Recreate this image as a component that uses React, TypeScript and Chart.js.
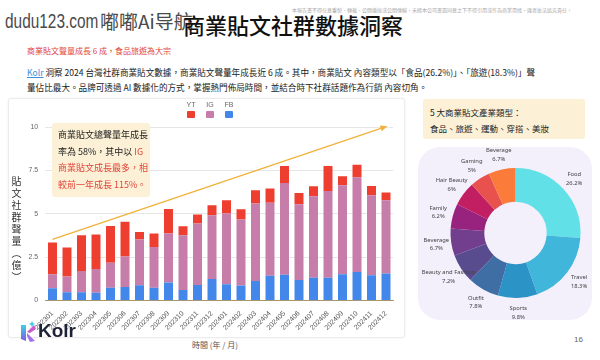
import React, { useEffect, useRef } from "react";
import { Chart, registerables } from "chart.js";

Chart.register(...registerables);

// ---------- data ----------
const months = [
  "202301", "202302", "202303", "202304", "202305", "202306",
  "202307", "202308", "202309", "202310", "202311", "202312",
  "202401", "202402", "202403", "202404", "202405", "202406",
  "202407", "202408", "202409", "202410", "202411", "202412",
];
const fbValues = [0.70, 0.47, 0.47, 0.45, 0.74, 0.78, 0.88, 0.74, 1.04, 0.60, 0.89, 1.24, 0.93, 0.87, 1.12, 1.43, 1.48, 1.18, 1.31, 1.31, 1.52, 1.64, 1.45, 1.56];
const igValues = [0.82, 0.92, 1.23, 1.36, 1.43, 1.76, 2.64, 2.35, 2.82, 3.16, 3.55, 3.67, 4.08, 3.80, 4.47, 4.21, 5.29, 4.37, 4.70, 5.00, 5.12, 5.47, 4.61, 4.22];
const ytValues = [1.83, 1.67, 2.06, 2.00, 2.13, 2.00, 0.43, 0.77, 1.42, 0.52, 0.51, 0.58, 0.77, 0.59, 0.76, 0.81, 0.98, 0.65, 0.57, 1.44, 0.52, 0.72, 0.54, 0.44];
const yTicks = [0, 2.5, 5, 7.5, 10];
const seriesNames = ["FB", "IG", "YT"];
const seriesColors = ["#4387EA", "#C77DAA", "#EE3E30"];
const trendFrom = [0, 3.52];
const trendTo = [23.1, 10.05];

const sliceNames = ["Food", "Travel", "Sports", "Outfit", "Beauty and Fashion", "Beverage", "Family", "Hair Beauty", "Gaming", "Beverage"];
const sliceValues = [26.2, 18.3, 9.8, 7.8, 7.2, 6.7, 6.2, 6, 5, 6.7];
const slicePctText = ["26.2%", "18.3%", "9.8%", "7.8%", "7.2%", "6.7%", "6.2%", "6%", "5%", "6.7%"];
const sliceColors = ["#61E0E8", "#40B6DA", "#2C93C7", "#3E6EA4", "#594C8E", "#713F8D", "#98237F", "#C21F62", "#E8514E", "#FB7B3B"];

const SANS = '"Liberation Sans", "Noto Sans CJK TC", sans-serif';
const CJK = '"Noto Sans CJK TC", "Liberation Sans", sans-serif';

function BarChart() {
  const ref = useRef<HTMLCanvasElement>(null);
  useEffect(() => {
    const arrowPlugin = {
      id: "trendArrow",
      afterDatasetsDraw(chart: any) {
        const { ctx } = chart;
        const x = chart.scales.x;
        const y = chart.scales.y;
        const x1 = x.getPixelForValue(trendFrom[0]);
        const y1 = y.getPixelForValue(trendFrom[1]);
        const x2 = x.getPixelForValue(trendTo[0]);
        const y2 = y.getPixelForValue(trendTo[1]);
        const ang = Math.atan2(y2 - y1, x2 - x1);
        const L = 7, W = 3;
        ctx.save();
        ctx.strokeStyle = "#F0B23A";
        ctx.fillStyle = "#F0B23A";
        ctx.lineWidth = 1.4;
        ctx.beginPath();
        ctx.moveTo(x1, y1);
        ctx.lineTo(x2 - Math.cos(ang) * 3, y2 - Math.sin(ang) * 3);
        ctx.stroke();
        ctx.beginPath();
        ctx.moveTo(x2, y2);
        ctx.lineTo(x2 - Math.cos(ang) * L + Math.sin(ang) * W, y2 - Math.sin(ang) * L - Math.cos(ang) * W);
        ctx.lineTo(x2 - Math.cos(ang) * L - Math.sin(ang) * W, y2 - Math.sin(ang) * L + Math.cos(ang) * W);
        ctx.closePath();
        ctx.fill();
        ctx.restore();
      },
    };
    const data = [fbValues, igValues, ytValues];
    const chart = new Chart(ref.current as HTMLCanvasElement, {
      type: "bar",
      data: {
        labels: months,
        datasets: data.map((d, i) => ({
          label: seriesNames[i],
          data: d,
          backgroundColor: seriesColors[i],
          borderWidth: 0,
          categoryPercentage: 1,
          barPercentage: 0.62,
        })),
      },
      options: {
        responsive: false,
        animation: false,
        devicePixelRatio: 1,
        layout: { padding: { left: 0, right: 11.75, top: 29, bottom: 0 } },
        plugins: { legend: { display: false }, tooltip: { enabled: false }, title: { display: false } },
        scales: {
          x: {
            stacked: true,
            grid: { display: false },
            border: { color: "#a8976f", width: 1 },
            ticks: {
              font: { size: 7, family: SANS },
              color: "#555",
              minRotation: 45,
              maxRotation: 45,
              autoSkip: false,
              padding: 1,
            },
            afterFit: (s: any) => { s.height = 37.5; },
          },
          y: {
            stacked: true,
            min: 0,
            max: 10,
            border: { display: false },
            grid: { color: "#e6e6e6", drawTicks: false },
            ticks: {
              font: { size: 7, family: SANS },
              color: "#666",
              padding: 7,
            },
            afterBuildTicks: (s: any) => { s.ticks = yTicks.map((v) => ({ value: v })); },
            afterFit: (s: any) => { s.width = 37.25; },
          },
        },
      } as any,
      plugins: [arrowPlugin],
    });
    return () => chart.destroy();
  }, []);
  return (
    <canvas ref={ref} width={397} height={240}
      style={{ position: "absolute", left: 8, top: 98, width: 397, height: 240 }} />
  );
}

function DonutChart() {
  const ref = useRef<HTMLCanvasElement>(null);
  useEffect(() => {
    const labelPlugin = {
      id: "sliceLabels",
      afterDraw(chart: any) {
        const { ctx } = chart;
        const meta = chart.getDatasetMeta(0);
        ctx.save();
        ctx.font = '5.8px "Noto Sans", "Liberation Sans", sans-serif';
        ctx.fillStyle = "#444";
        ctx.textAlign = "center";
        ctx.textBaseline = "middle";
        meta.data.forEach((arc: any, i: number) => {
          const p = arc.getProps(["startAngle", "endAngle", "x", "y", "outerRadius"], true);
          const mid = (p.startAngle + p.endAngle) / 2;
          const r = p.outerRadius + 15;
          const lx = p.x + Math.cos(mid) * r;
          const ly = p.y + Math.sin(mid) * r;
          ctx.fillText(sliceNames[i], lx, ly - 4.3);
          ctx.fillText(slicePctText[i], lx, ly + 4.3);
        });
        ctx.restore();
      },
    };
    const chart = new Chart(ref.current as HTMLCanvasElement, {
      type: "doughnut",
      data: {
        labels: sliceNames,
        datasets: [{ data: sliceValues, backgroundColor: sliceColors, borderWidth: 0 }],
      },
      options: {
        responsive: false,
        animation: false,
        devicePixelRatio: 1,
        cutout: "48%",
        layout: { padding: { left: 32.5, right: 11.5, top: 21, bottom: 22 } },
        plugins: { legend: { display: false }, tooltip: { enabled: false } },
      } as any,
      plugins: [labelPlugin],
    });
    return () => chart.destroy();
  }, []);
  return (
    <canvas ref={ref} width={174} height={173}
      style={{ position: "absolute", left: 418, top: 147, width: 174, height: 173 }} />
  );
}

const abs = (o: any) => ({ position: "absolute" as const, whiteSpace: "nowrap" as const, ...o });

export default function App() {
  const yTitleChars = ["貼", "文", "社", "群", "聲", "量", "︵", "億", "︶"];
  return (
    <div style={{ position: "fixed", left: 0, top: 0, width: 600, height: 360, background: "#fff", overflow: "hidden", fontFamily: SANS }}>
      {/* top-right tiny notice */}
      <div style={abs({ left: 292, top: 6, fontSize: 5, color: "#aaa", fontFamily: CJK })}>
        本報告書不得任意重製、轉載、公開播送或公開傳輸，未經本公司書面同意之下不得引用或作為商業用途，違者依法追究責任。
      </div>
      {/* watermark */}
      <div style={abs({ left: 5, top: 8, fontSize: 20, lineHeight: "26px", color: "#4a4a4a", fontFamily: SANS, transform: "scaleX(0.77)", transformOrigin: "left top" })}>dudu123.com</div>
      <div style={abs({ left: 100, top: 8, fontSize: 19, color: "#4a4a4a", fontFamily: '"Noto Sans CJK SC", "Liberation Sans", sans-serif', lineHeight: "26px" })}>嘟嘟Ai导航</div>
      {/* title */}
      <div style={abs({ left: 183, top: 9, fontSize: 22, lineHeight: "30px", color: "#111", fontFamily: CJK, fontWeight: 500 })}>商業貼文社群數據洞察</div>
      {/* subtitle */}
      <div style={abs({ left: 27, top: 45, fontSize: 8, lineHeight: "12px", color: "#E2453A", fontFamily: CJK })}>商業貼文聲量成長 6 成，食品旅遊為大宗</div>
      {/* paragraph */}
      <div style={abs({ left: 27, top: 66, fontSize: 8.6, lineHeight: "12px", color: "#222", fontFamily: CJK })}>
        <span style={{ color: "#3B8ED6", textDecoration: "underline" }}>Kolr</span> 洞察 2024 台灣社群商業貼文數據，商業貼文聲量年成長近 6 成。其中，商業貼文 內容類型以「食品(26.2%)」、「旅遊(18.3%)」聲
      </div>
      <div style={abs({ left: 27, top: 81, fontSize: 8.6, lineHeight: "12px", color: "#222", fontFamily: CJK })}>
        量佔比最大。品牌可透過 AI 數據化的方式，掌握熱門佈局時間，並結合時下社群話題作為行銷 內容切角。
      </div>

      {/* chart panel */}
      <div style={abs({ left: 8, top: 98, width: 395, height: 238, border: "1px solid #ececec", borderRadius: 3, boxShadow: "0 0 2px rgba(0,0,0,0.08)", background: "#fff" })} />
      <BarChart />
      {/* legend */}
      {["YT", "IG", "FB"].map((n, i) => (
        <div key={n} style={abs({ left: 185 + i * 19, top: 100, width: 12, textAlign: "center" })}>
          <div style={{ fontSize: 7, lineHeight: "9px", color: "#666" }}>{n}</div>
          <div style={{ width: 8, height: 7, margin: "2px auto 0", background: seriesColors[2 - i], borderRadius: 1 }} />
        </div>
      ))}
      {/* note box */}
      <div style={abs({ left: 52, top: 123, width: 98, height: 74, background: "#FCF0D6", borderRadius: 3, boxSizing: "border-box", padding: "4px 0 0 6px", fontSize: 9, lineHeight: "16.5px", fontFamily: CJK, color: "#222" })}>
        <div>商業貼文總聲量年成長</div>
        <div>率為 58%，其中以 <span style={{ color: "#E2453A" }}>IG</span></div>
        <div style={{ color: "#E2453A" }}>商業貼文成長最多，相</div>
        <div style={{ color: "#E2453A" }}>較前一年成長 115%。</div>
      </div>
      {/* y title */}
      <div style={abs({ left: 10, top: 175, width: 13, fontSize: 10, color: "#333", fontFamily: CJK, textAlign: "center" })}>
        {yTitleChars.map((c, i) => (
          <div key={i} style={{ height: 12, lineHeight: "12px" }}>{c}</div>
        ))}
      </div>
      {/* x title */}
      <div style={abs({ left: 165, top: 340, width: 100, textAlign: "center", fontSize: 8, lineHeight: "10px", color: "#555", fontFamily: CJK })}>時間 (年 / 月)</div>
      {/* Kolr logo */}
      <svg style={{ position: "absolute", left: 19, top: 321 }} width="18" height="22" viewBox="0 0 18 22">
        <defs>
          <linearGradient id="kg1" x1="0" y1="0" x2="0" y2="1">
            <stop offset="0" stopColor="#3FD0E8" />
            <stop offset="1" stopColor="#7A5CE6" />
          </linearGradient>
          <linearGradient id="kg2" x1="0" y1="0" x2="1" y2="1">
            <stop offset="0" stopColor="#E84FA0" />
            <stop offset="1" stopColor="#B466E8" />
          </linearGradient>
        </defs>
        <path d="M2 4 L7 4 L7 20 L2 18 Z" fill="url(#kg1)" />
        <path d="M8 11 L15 4 L17 8 L11 12 Z" fill="url(#kg2)" />
        <path d="M8 12 L16 20 L11 21 L8 15 Z" fill="#A470F0" />
        <path d="M13 0 L14 2 L16 3 L14 4 L13 6 L12 4 L10 3 L12 2 Z" fill="#46C8F0" />
      </svg>
      <div style={abs({ left: 38, top: 319, fontSize: 19, lineHeight: "24px", fontWeight: 700, color: "#1E2236", fontFamily: SANS })}>Kolr</div>

      {/* right info box */}
      <div style={abs({ left: 423, top: 99, width: 162, height: 40, background: "#FCF0D6", borderRadius: 2, boxSizing: "border-box", padding: "5px 0 0 7px", fontSize: 8.5, lineHeight: "16px", fontFamily: CJK, color: "#222" })}>
        <div>5 大商業貼文產業類型：</div>
        <div>食品、旅遊、運動、穿搭、美妝</div>
      </div>
      {/* donut panel */}
      <div style={abs({ left: 418, top: 147, width: 174, height: 173, background: "#F3EFFB", borderRadius: 22 })} />
      <DonutChart />
      {/* page number */}
      <div style={abs({ left: 574, top: 335, fontSize: 8, color: "#666" })}>16</div>
    </div>
  );
}
